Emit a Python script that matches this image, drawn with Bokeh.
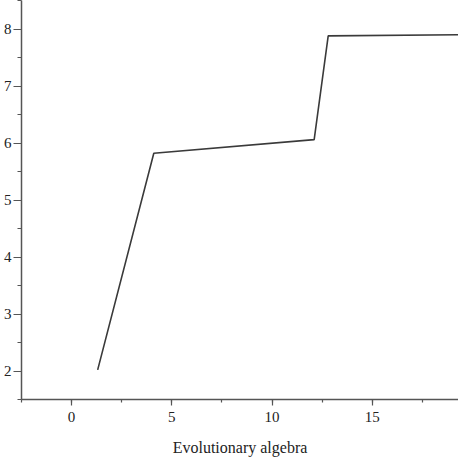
from bokeh.plotting import figure
from bokeh.models import SingleIntervalTicker, Range1d
from bokeh.embed import file_html
from bokeh.resources import INLINE

# Data
generation = [1.3, 4.1, 12.1, 12.8, 20.0]
fitness = [2.02, 5.82, 6.06, 7.88, 7.90]
x_label = "Evolutionary algebra"

FONT = "Liberation Serif"
AXIS_COLOR = "#555555"

p = figure(width=458, height=458, output_backend="svg", toolbar_location=None,
           x_range=Range1d(-2.5, 19.3), y_range=Range1d(1.5, 8.5),
           min_border_left=0, min_border_right=0, min_border_top=0,
           min_border_bottom=0)

p.line(generation, fitness, line_color="#3a3a3a", line_width=1.6)

p.xgrid.visible = False
p.ygrid.visible = False
p.outline_line_color = None
p.background_fill_color = "white"
p.border_fill_color = "white"

p.xaxis.ticker = SingleIntervalTicker(interval=5, num_minor_ticks=2)
p.yaxis.ticker = SingleIntervalTicker(interval=1, num_minor_ticks=2)

for ax in (p.xaxis[0], p.yaxis[0]):
    ax.axis_line_color = AXIS_COLOR
    ax.axis_line_width = 1.5
    ax.major_tick_line_color = AXIS_COLOR
    ax.minor_tick_line_color = AXIS_COLOR
    ax.major_tick_line_width = 1.2
    ax.minor_tick_line_width = 1.2
    ax.major_tick_in = 0
    ax.minor_tick_in = 0
    ax.major_label_text_font = FONT
    ax.major_label_text_font_size = "15px"
    ax.major_label_text_color = "#222222"

p.yaxis.major_tick_out = 8
p.yaxis.minor_tick_out = 4
p.yaxis.major_label_standoff = 2

p.xaxis.major_tick_out = 6
p.xaxis.minor_tick_out = 3
p.xaxis.major_label_standoff = 6
p.xaxis.axis_label = x_label
p.xaxis.axis_label_text_font = FONT
p.xaxis.axis_label_text_font_size = "16px"
p.xaxis.axis_label_text_font_style = "normal"
p.xaxis.axis_label_text_color = "#222222"
p.xaxis.axis_label_standoff = 14

open("out.html", "w").write(file_html(p, INLINE))
